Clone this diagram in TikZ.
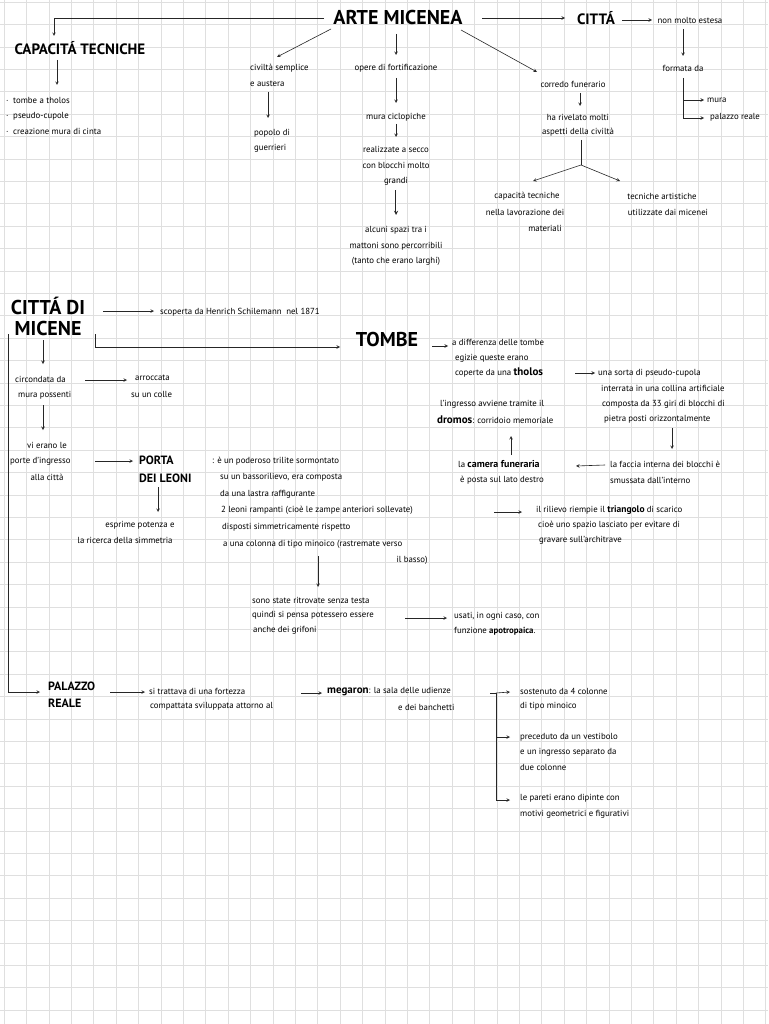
\documentclass[tikz,border=0pt]{standalone}
\usepackage{fontspec}
\setmainfont{PT Sans}
\begin{document}
\begin{tikzpicture}[x=1pt,y=-1pt,
  t/.style={font=\fontsize{8.8}{10}\selectfont, inner sep=0pt, anchor=west},
  tc/.style={font=\fontsize{8.8}{10}\selectfont, inner sep=0pt},
  big/.style={font=\fontsize{20}{20}\bfseries\selectfont, inner sep=0pt},
  mid/.style={font=\fontsize{15}{15}\bfseries\selectfont, inner sep=0pt},
  sm/.style={font=\fontsize{12}{12}\bfseries\selectfont, inner sep=0pt},
  ar/.style={->, >=stealth, line width=0.6pt, black!85},
  ln/.style={line width=0.6pt, black!85}]
\fill[white] (0,0) rectangle (768,1024);
\useasboundingbox (0,0) rectangle (768,1024);
\foreach \i in {0,...,34} \draw[gray!25, line width=0.5pt] (\i*22.4+4,0) -- (\i*22.4+4,1024);
\foreach \i in {0,...,46} \draw[gray!25, line width=0.5pt] (0,\i*22.4+2) -- (768,\i*22.4+2);
% top
\node[big] (arte) at (398,18) {ARTE MICENEA};
\node[mid] (citta) at (596,18) {CITTÁ};
\node[tc] (non) at (690,20) {non molto estesa};
\draw[ar] (482,18) -- (565,18);
\draw[ar] (622,20) -- (652,20);
\node[tc] (form) at (683,68) {formata da};
\draw[ar] (683,29) -- (683,56);
\draw[ln] (683,78) -- (683,118);
\draw[ar] (683,100) -- (704,100);
\draw[ar] (683,118) -- (704,118);
\node[t] (mura) at (707,100) {mura};
\node[t] (pal) at (710,117) {palazzo reale};
\node[mid] (cap) at (80,48) {CAPACITÁ TECNICHE};
\draw[ar] (324,18) -- (54,18) -- (54,36);
\draw[ar] (57,60) -- (57,85);
\node[t] at (6,100) {·\ \ tombe a tholos};
\node[t] at (6,116) {·\ \ pseudo-cupole};
\node[t] at (6,131) {·\ \ creazione mura di cinta};
\node[t] (civ) at (250,68) {civiltà semplice};
\node[t] at (250,84) {e austera};
\draw[ar] (331,29) -- (277,57);
\draw[ar] (268,92) -- (268,118);
\node[t] (pop) at (254,133) {popolo di};
\node[t] at (254,148) {guerrieri};
\node[tc] (op) at (396,68) {opere di fortificazione};
\draw[ar] (396,34) -- (396,55);
\draw[ar] (396,78) -- (396,103);
\node[tc] (mc) at (396,117) {mura ciclopiche};
\draw[ar] (396,124) -- (396,137);
\node[tc] (real) at (396,149) {realizzate a secco};
\node[tc] at (396,165) {con blocchi molto};
\node[tc] at (396,181) {grandi};
\draw[ar, double, double distance=1pt] (396,190) -- (396,215);
\node[tc] (alc) at (396,230) {alcuni spazi tra i};
\node[tc] at (396,246) {mattoni sono percorribili};
\node[tc] at (396,261) {(tanto che erano larghi)};
\draw[ar] (461,30) -- (537,72);
\node[tc] (corr) at (573,84) {corredo funerario};
\draw[ar] (580,93) -- (580,106);
\node[tc] (ha) at (578,117) {ha rivelato molti};
\node[tc] at (578,132) {aspetti della civiltà};
\draw[ln] (581,140) -- (581,165);
\draw[ar] (581,165) -- (533,181);
\draw[ar] (581,165) -- (620,181);
\node[tc] (capt) at (527,196) {capacità tecniche};
\node[tc] at (525,212) {nella lavorazione dei};
\node[tc] at (545,228) {materiali};
\node[tc] (tec) at (662,196) {tecniche artistiche};
\node[tc] at (668,212) {utilizzate dai micenei};
% middle
\node[big] (cdm) at (48,306) {CITTÁ DI};
\node[big] (mic) at (48,328) {MICENE};
\draw[ar] (103,311) -- (154,311);
\node[t] (scop) at (160,312) {scoperta da Henrich Schilemann\ \ nel 1871};
\draw[ar] (95,334) -- (95,347) -- (340,347);
\node[big] (tombe) at (387,339) {TOMBE};
\draw[ar] (432,346) -- (448,346);
\node[t] (adiff) at (452,342) {a differenza delle tombe};
\node[t] at (455,358) {egizie queste erano};
\node[t] at (455,373) {coperte da una \fontsize{11}{11}\bfseries\selectfont tholos};
\draw[ar] (575,373) -- (595,373);
\node[t] (sorta) at (598,373) {una sorta di pseudo-cupola};
\node[t] at (601,388) {interrata in una collina artificiale};
\node[t] at (602,404) {composta da 33 giri di blocchi di};
\node[t] at (604,419) {pietra posti orizzontalmente};
\draw[ar] (672,428) -- (672,449);
\node[t] (fac) at (610,464) {la faccia interna dei blocchi è};
\node[t] at (610,480) {smussata dall'interno};
\draw[ar] (605,465) -- (576,466);
\node[t] (cam) at (458,464) {la {\fontsize{10}{10}\bfseries\selectfont camera funeraria}};
\node[t] at (460,480) {è posta sul lato destro};
\draw[ar] (511,455) -- (511,436);
\node[t] (ingr) at (440,404) {l'ingresso avviene tramite il};
\node[t] at (437,420) {{\fontsize{11}{11}\bfseries\selectfont dromos}: corridoio memoriale};
\draw[ar] (8,334) -- (8,692) -- (40,692);
\draw[ar] (43,340) -- (43,364);
\node[t] (circ) at (15,379) {circondata da};
\node[t] at (18,395) {mura possenti};
\draw[ar] (85,380) -- (127,380);
\node[t] (arr) at (135,378) {arroccata};
\node[t] at (131,394) {su un colle};
\draw[ar] (43,405) -- (43,430);
\node[tc] (vi) at (47,445) {vi erano le};
\node[t] at (10,461) {porte d'ingresso};
\node[tc] at (47,477) {alla città};
\draw[ar] (95,461) -- (133,461);
\node[sm, anchor=west] (porta) at (139,460) {PORTA};
\node[sm, anchor=west] at (139,478) {DEI LEONI};
\draw[ar] (158,487) -- (158,512);
\node[tc] (espr) at (140,525) {esprime potenza e};
\node[tc] at (125,540) {la ricerca della simmetria};
\node[t] (tril) at (212,461) {: è un poderoso trilite sormontato};
\node[t] at (220,477) {su un bassorilievo, era composta};
\node[t] at (220,494) {da una lastra raffigurante};
\node[t] at (221,510) {2 leoni rampanti (cioè le zampe anteriori sollevate)};
\node[t] at (222,527) {disposti simmetricamente rispetto};
\node[t] at (223,544) {a una colonna di tipo minoico (rastremate verso};
\node[tc] at (412,560) {il basso)};
\draw[ar] (494,512) -- (522,512);
\node[t] (ril) at (536,510) {il rilievo riempie il {\fontsize{9.5}{10}\bfseries\selectfont triangolo} di scarico};
\node[t] at (538,525) {cioè uno spazio lasciato per evitare di};
\node[t] at (539,540) {gravare sull'architrave};
\draw[ar] (318,556) -- (318,587);
\node[t] (sono) at (252,600) {sono state ritrovate senza testa};
\node[t] at (252,615) {quindi si pensa potessero essere};
\node[t] at (253,630) {anche dei grifoni};
\draw[ar] (405,618) -- (447,618);
\node[t] (usati) at (454,616) {usati, in ogni caso, con};
\node[t] at (454,631) {funzione {\bfseries apotropaica}.};
% bottom
\node[sm, anchor=west] (palr) at (48,686) {PALAZZO};
\node[sm, anchor=west] at (48,703) {REALE};
\draw[ar] (110,692) -- (145,692);
\node[t] (fort) at (149,691) {si trattava di una fortezza};
\node[t] at (150,706) {compattata sviluppata attorno al};
\draw[ar] (301,693) -- (322,693);
\node[t] (meg) at (327,692) {{\fontsize{11}{11}\bfseries\selectfont megaron}: la sala delle udienze};
\node[t] at (398,707) {e dei banchetti};
\draw[ln] (490,693) -- (496,693) -- (496,800);
\draw[ar] (496,693) -- (510,692);
\draw[ar] (496,737) -- (510,737);
\draw[ar] (496,800) -- (510,800);
\node[t] (sost) at (520,691) {sostenuto da 4 colonne};
\node[t] at (520,706) {di tipo minoico};
\node[t] (prec) at (520,737) {preceduto da un vestibolo};
\node[t] at (520,752) {e un ingresso separato da};
\node[t] at (520,767) {due colonne};
\node[t] (par) at (520,798) {le pareti erano dipinte con};
\node[t] at (520,814) {motivi geometrici e figurativi};
\end{tikzpicture}
\end{document}
